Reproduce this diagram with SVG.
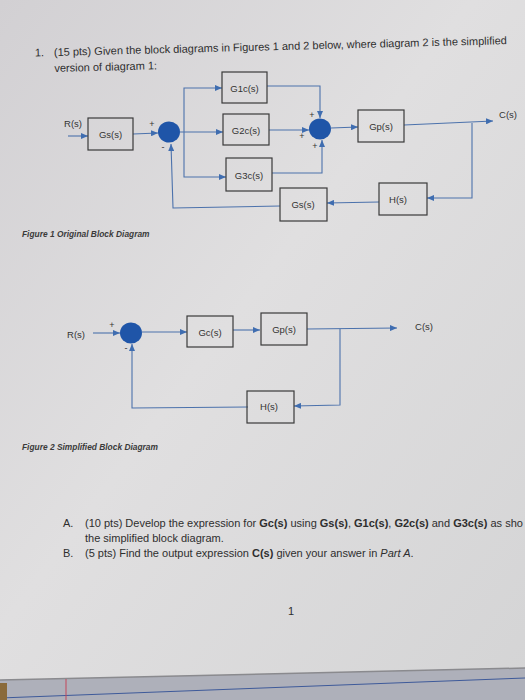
<svg xmlns="http://www.w3.org/2000/svg" width="525" height="700" viewBox="0 0 525 700">
  <defs>
    <linearGradient id="paper" x1="0" y1="0" x2="1" y2="1">
      <stop offset="0" stop-color="#d2d0d3"/>
      <stop offset="0.45" stop-color="#e0dfe0"/>
      <stop offset="1" stop-color="#d4d4d5"/>
    </linearGradient>
    <marker id="ah" markerWidth="8" markerHeight="6" refX="7" refY="3" orient="auto" markerUnits="userSpaceOnUse">
      <path d="M0,0 L7,3 L0,6 Z" fill="#3f6db0"/>
    </marker>
    <style>
      .box { fill: none; stroke: #3a3a3a; stroke-width: 1.2; }
      .ln { fill: none; stroke: #4c72ac; stroke-width: 1.1; }
      .sum { fill: #1f55a8; }
      .lbl { font-family: "Liberation Sans", Arial, sans-serif; font-size: 9.5px; fill: #333; text-anchor: middle; dominant-baseline: central; }
      .sgn { font-family: "Liberation Sans", Arial, sans-serif; font-size: 9px; fill: #333; text-anchor: middle; dominant-baseline: central; }
      .body { font-family: "Liberation Sans", Arial, sans-serif; font-size: 11px; fill: #2e2e2e; }
      .cap { font-family: "Liberation Sans", Arial, sans-serif; font-size: 8.4px; font-style: italic; font-weight: bold; fill: #3a3a3a; }
    </style>
  </defs>

  <!-- paper background -->
  <rect x="0" y="0" width="525" height="700" fill="url(#paper)"/>
  <!-- bottom: notebook below the sheet -->
  <polygon points="0,680 525,668 525,700 0,700" fill="#aeb0ba"/>
  <polyline points="0,680 525,668" fill="none" stroke="#8a8a8e" stroke-width="1.5"/>
  <line x1="0" y1="698" x2="525" y2="678" stroke="#3e5a9a" stroke-width="1"/>
  <line x1="66" y1="679" x2="66" y2="700" stroke="#c4475a" stroke-width="1"/>
  <rect x="0" y="683" width="7" height="17" fill="#8a6a3a"/>

  <!-- header text -->
  <g transform="rotate(-1.5 54 56)">
    <text class="body" x="35" y="56">1.</text>
    <text class="body" x="54" y="56">(15 pts)  Given the block diagrams in Figures 1 and 2 below, where diagram 2 is the simplified</text>
    <text class="body" x="54" y="72">version of diagram 1:</text>
  </g>

  <!-- ===== Figure 1 connectors ===== -->
  <g id="fig1-connectors">
    <line class="ln" x1="68" y1="136" x2="88" y2="136" marker-end="url(#ah)"/>
    <line class="ln" x1="133" y1="134" x2="158" y2="133" marker-end="url(#ah)"/>
    <line class="ln" x1="180" y1="132" x2="223" y2="132" marker-end="url(#ah)"/>
    <polyline class="ln" points="184,132 184,88 222,88" marker-end="url(#ah)"/>
    <polyline class="ln" points="184,132 184,177 226,177" marker-end="url(#ah)"/>
    <polyline class="ln" points="267,86 320,86 320,118" marker-end="url(#ah)"/>
    <line class="ln" x1="269" y1="130" x2="309" y2="130" marker-end="url(#ah)"/>
    <polyline class="ln" points="272,173 322,173 322,140" marker-end="url(#ah)"/>
    <line class="ln" x1="331" y1="128" x2="358" y2="127" marker-end="url(#ah)"/>
    <line class="ln" x1="404" y1="125" x2="493" y2="121" marker-end="url(#ah)"/>
    <polyline class="ln" points="472,123 472,198 427,198" marker-end="url(#ah)"/>
    <line class="ln" x1="379" y1="202" x2="327" y2="203" marker-end="url(#ah)"/>
    <polyline class="ln" points="280,206 173,208 171,144" marker-end="url(#ah)"/>
  </g>

  <!-- Figure 1 nodes -->
  <g id="f1-R"><text class="lbl" x="73" y="123">R(s)</text></g>
  <g id="f1-Gs"><rect class="box" x="88" y="118" width="45" height="32"/><text class="lbl" x="110.5" y="134">Gs(s)</text></g>
  <g id="f1-sum1">
    <ellipse class="sum" cx="169" cy="132" rx="11" ry="10.5"/>
    <text class="sgn" x="152" y="124">+</text>
    <text class="sgn" x="163" y="147">-</text>
  </g>
  <g id="f1-G1c"><rect class="box" x="222" y="72" width="45" height="31"/><text class="lbl" x="244.5" y="88">G1c(s)</text></g>
  <g id="f1-G2c"><rect class="box" x="223" y="114" width="46" height="31"/><text class="lbl" x="246" y="130">G2c(s)</text></g>
  <g id="f1-G3c"><rect class="box" x="226" y="158" width="46" height="33"/><text class="lbl" x="249" y="175">G3c(s)</text></g>
  <g id="f1-sum2">
    <ellipse class="sum" cx="320" cy="129" rx="11" ry="10.5"/>
    <text class="sgn" x="312" y="115">+</text>
    <text class="sgn" x="302" y="136">+</text>
    <text class="sgn" x="315" y="146">+</text>
  </g>
  <g id="f1-Gp"><rect class="box" x="358" y="110" width="46" height="32"/><text class="lbl" x="381" y="126">Gp(s)</text></g>
  <g id="f1-C"><text class="lbl" x="508" y="114">C(s)</text></g>
  <g id="f1-H"><rect class="box" x="379" y="183" width="48" height="32"/><text class="lbl" x="398" y="199">H(s)</text></g>
  <g id="f1-Gs2"><rect class="box" x="280" y="188" width="47" height="33"/><text class="lbl" x="303" y="204">Gs(s)</text></g>
  <text class="cap" x="22" y="237">Figure 1  Original Block Diagram</text>

  <!-- ===== Figure 2 connectors ===== -->
  <g id="fig2-connectors">
    <line class="ln" x1="93" y1="333" x2="120" y2="333" marker-end="url(#ah)"/>
    <line class="ln" x1="142" y1="332" x2="187" y2="332" marker-end="url(#ah)"/>
    <line class="ln" x1="233" y1="330" x2="260" y2="330" marker-end="url(#ah)"/>
    <line class="ln" x1="307" y1="329" x2="397" y2="328" marker-end="url(#ah)"/>
    <polyline class="ln" points="340,329 340,405 294,406" marker-end="url(#ah)"/>
    <polyline class="ln" points="248,407 132,408 132,344" marker-end="url(#ah)"/>
  </g>

  <!-- Figure 2 nodes -->
  <g id="f2-R"><text class="lbl" x="76" y="334">R(s)</text></g>
  <g id="f2-sum">
    <ellipse class="sum" cx="131" cy="333" rx="11" ry="10.5"/>
    <text class="sgn" x="112" y="325">+</text>
    <text class="sgn" x="126" y="348">-</text>
  </g>
  <g id="f2-Gc"><rect class="box" x="187" y="316" width="46" height="31"/><text class="lbl" x="210" y="332">Gc(s)</text></g>
  <g id="f2-Gp"><rect class="box" x="261" y="313" width="46" height="32"/><text class="lbl" x="284" y="329">Gp(s)</text></g>
  <g id="f2-C"><text class="lbl" x="424" y="326">C(s)</text></g>
  <g id="f2-H"><rect class="box" x="247" y="391" width="47" height="32"/><text class="lbl" x="269" y="406">H(s)</text></g>
  <text class="cap" x="22" y="450">Figure 2  Simplified Block Diagram</text>

  <!-- questions -->
  <text class="body" x="63" y="527">A.</text>
  <text class="body" x="85" y="527">(10 pts)  Develop the expression for <tspan font-weight="bold">Gc(s)</tspan> using <tspan font-weight="bold">Gs(s)</tspan>, <tspan font-weight="bold">G1c(s)</tspan>, <tspan font-weight="bold">G2c(s)</tspan> and <tspan font-weight="bold">G3c(s)</tspan> as sho</text>
  <text class="body" x="85" y="542">the simplified block diagram.</text>
  <text class="body" x="63" y="557">B.</text>
  <text class="body" x="85" y="557">(5 pts)  Find the output expression <tspan font-weight="bold">C(s)</tspan> given your answer in <tspan font-style="italic">Part A</tspan>.</text>

  <text class="body" x="291" y="615" text-anchor="middle">1</text>
</svg>
